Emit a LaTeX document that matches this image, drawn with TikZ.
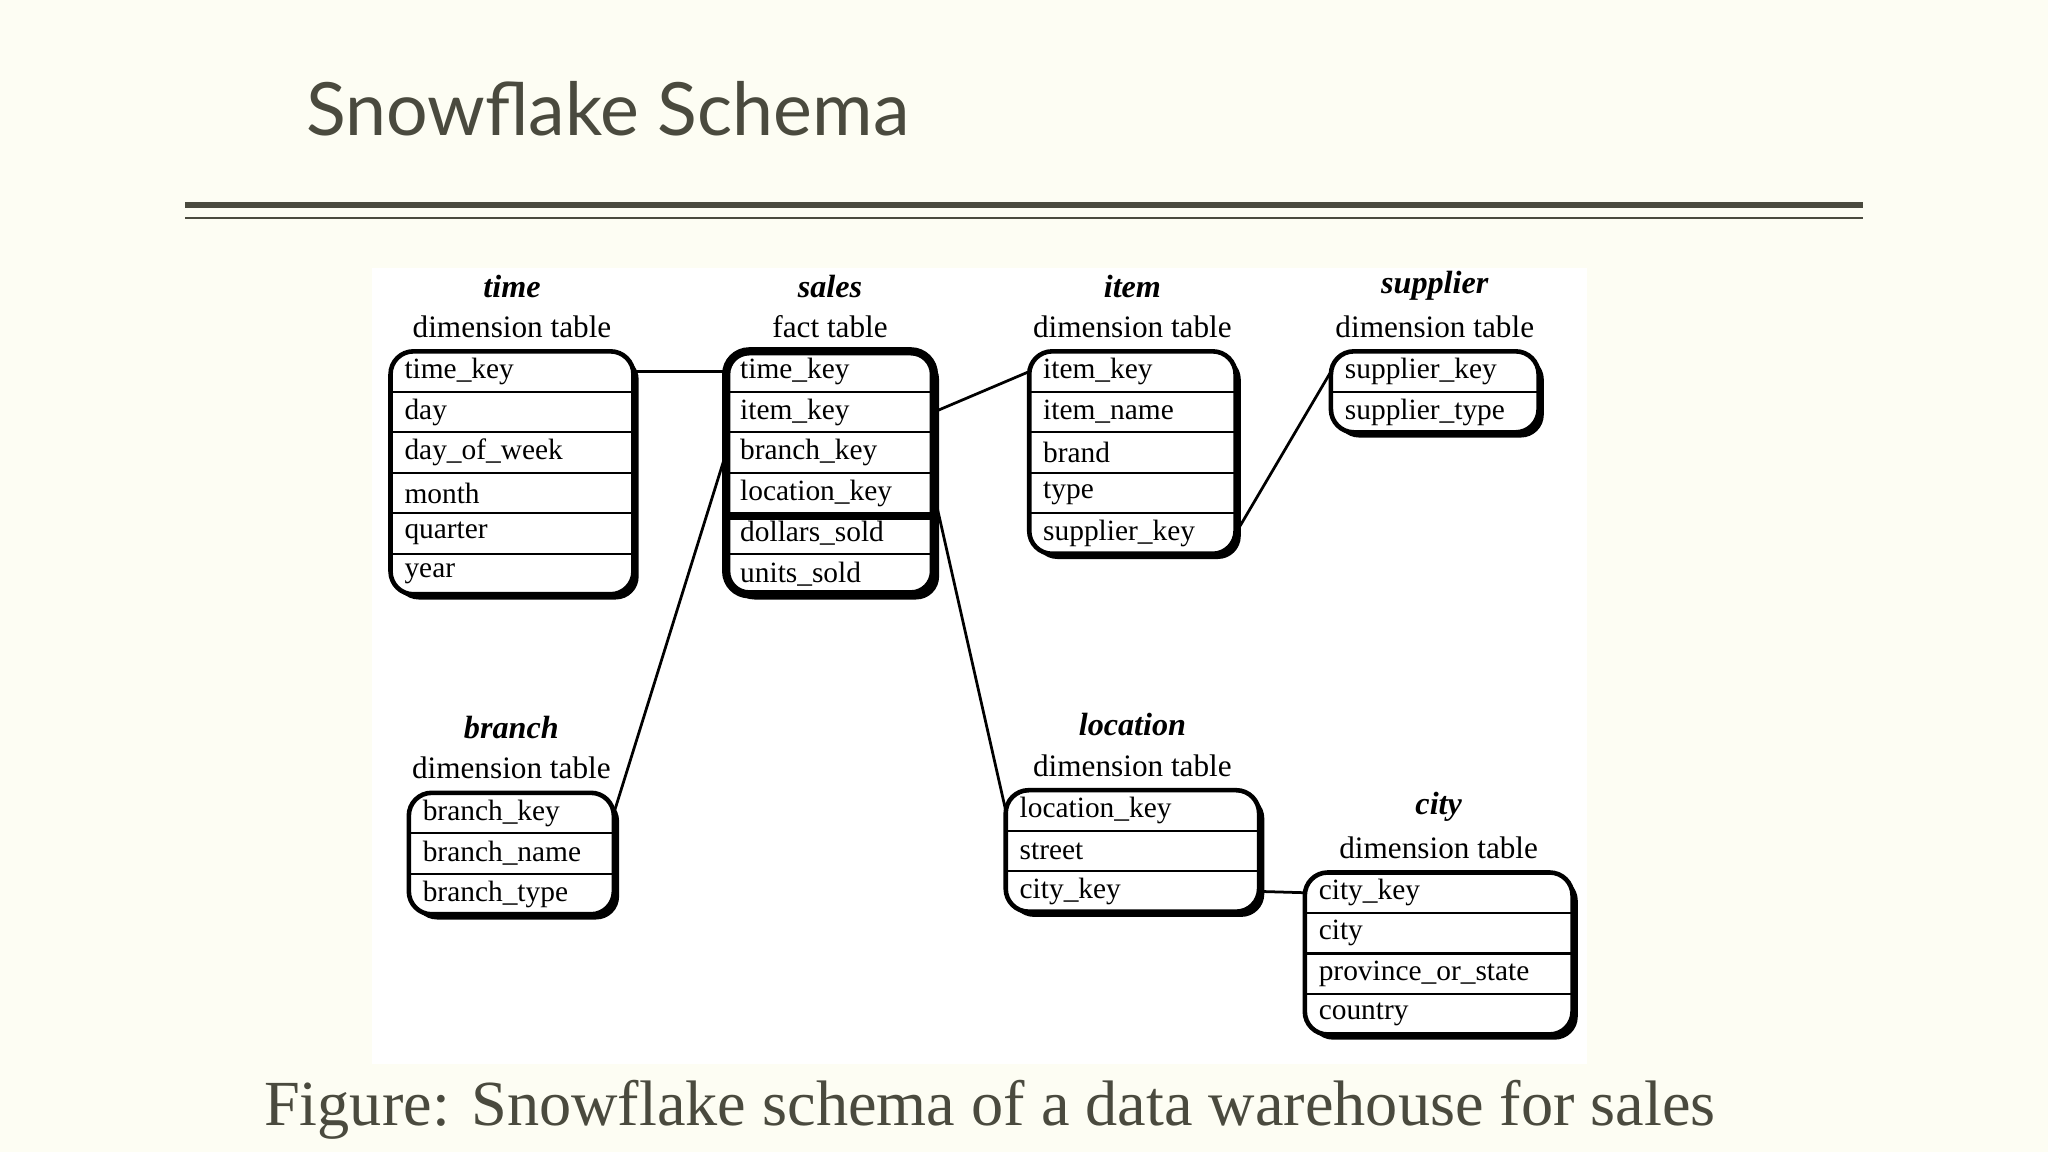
\documentclass[tikz,border=0pt]{standalone}
\usepackage{fontspec}
\setmainfont{Liberation Serif}
\newfontfamily\titlefont{Lato}
\definecolor{bgc}{HTML}{FDFDF3}
\definecolor{ink}{HTML}{4A4A3E}
\tikzset{
  rowtxt/.style={anchor=west,inner sep=0pt,font=\fontsize{6.4}{7}\selectfont},
  ttl/.style={font=\fontsize{7}{8}\selectfont\bfseries\itshape},
  sub/.style={font=\fontsize{6.8}{8}\selectfont},
  link/.style={line width=0.6pt},
}
\newcommand\dbtable[8]{% name, x, y, w, nrows, title, rows, subtitle
  \pgfmathsetmacro\hh{31*#5}
  \fill[black,rounded corners=5] (#2+4,#3+4) rectangle ++(#4,\hh);
  \draw[fill=white,line width=1pt,rounded corners=5] (#2,#3) rectangle ++(#4,\hh);
  \node[ttl] (#1-title) at (#2+#4/2,#3-50) {#6};
  \node[sub] (#1-sub) at (#2+#4/2,#3-19) {#8};
  \foreach \t [count=\i] in {#7}{
    \pgfmathsetmacro\yc{#3+31*\i-15.5}
    \coordinate (#1-w\i) at (#2,\yc);
    \coordinate (#1-e\i) at (#2+#4,\yc);
    \node[rowtxt] (#1-t\i) at (#2+10,\yc) {\t};
    \ifnum\i<#5 \draw[line width=0.5pt] (#2,#3+31*\i) -- ++(#4,0);\fi
  }
}
\begin{document}
\begin{tikzpicture}[x=0.01cm,y=-0.01cm]
\fill[bgc] (0,0) rectangle (1568,882);
\useasboundingbox (0,0) rectangle (1568,882);
\fill[white] (285,205) rectangle (1215,815);
\node[anchor=west,text=ink,font=\titlefont\fontsize{16}{18}\selectfont] (title) at (222,83) {Snowflake Schema};
\draw[ink,line width=1.4pt] (142,157) -- (1426,157);
\draw[ink,line width=0.6pt] (142,167) -- (1426,167);
\dbtable{time}{299}{269}{186}{6}{time}{time\_key,day,day\_of\_week,month,quarter,year}{dimension table}
\dbtable{sales}{556}{269}{159}{6}{sales}{time\_key,item\_key,branch\_key,location\_key,dollars\_sold,units\_sold}{fact table}
\draw[line width=1.8pt,rounded corners=5] (556,269) rectangle ++(159,186);
\draw[line width=1.4pt] (556,396) -- ++(159,0);
\dbtable{item}{788}{269}{158}{5}{item}{item\_key,item\_name,brand,type,supplier\_key}{dimension table}
\dbtable{supplier}{1019}{269}{159}{2}{supplier}{supplier\_key,supplier\_type}{dimension table}
\dbtable{branch}{313}{607}{157}{3}{branch}{branch\_key,branch\_name,branch\_type}{dimension table}
\dbtable{location}{770}{605}{194}{3}{location}{location\_key,street,city\_key}{dimension table}
\dbtable{city}{999}{668}{205}{4}{city}{city\_key,city,province\_or\_state,country}{dimension table}
\draw[link] (time-e1) -- (sales-w1);
\draw[link] (sales-e2) -- (item-w1);
\draw[link] (item-e5) -- (supplier-w1);
\draw[link] (sales-w3) -- (branch-e1);
\draw[link] (sales-e4) -- (location-w1);
\draw[link] (location-e3) -- (city-w1);
\node[text=ink,font=\fontsize{14}{16}\selectfont] (cap) at (758,850) {Figure: Snowflake schema of a data warehouse for sales};
\end{tikzpicture}
\end{document}
